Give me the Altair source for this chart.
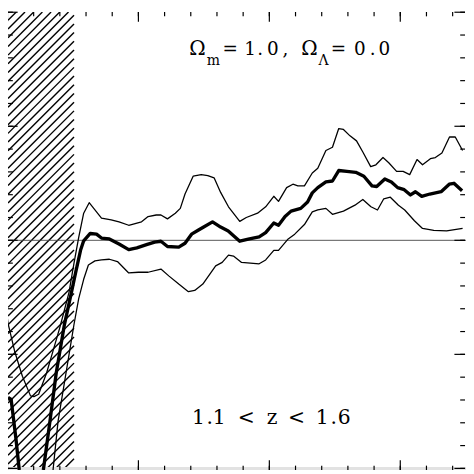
import altair as alt
import pandas as pd
import numpy as np

# ---------------- data (axis units: 1 = one minor tick) ----------------
X_MIN, X_MAX = 0.02, 17.51
Y_MIN, Y_MAX = -10.07, 10.01
HATCH_X = 2.54

mean_x = [0.02, 0.14, 0.32, 0.45, 0.68, 0.94, 1.16, 1.37, 1.62, 1.86, 2.17, 2.42, 2.60, 2.79,
          2.91, 3.16, 3.40, 3.59, 3.89, 4.26, 4.63, 4.94, 5.31, 5.62, 5.86, 6.11, 6.54, 6.78,
          7.03, 7.28, 7.46, 7.83, 8.14, 8.43, 8.87, 9.24, 9.61, 9.86, 10.17, 10.35, 10.60,
          10.83, 11.20, 11.46, 11.64, 11.85, 12.16, 12.41, 12.65, 12.96, 13.30, 13.61, 13.92,
          14.10, 14.41, 14.66, 14.90, 15.15, 15.39, 15.58, 15.82, 16.13, 16.56, 16.87, 17.05, 17.36]
mean_y = [-6.89, -6.98, -8.67, -10.07, -11.39, -11.81, -11.17, -10.07, -7.95, -5.83, -3.72, -2.40,
          -1.43, -0.44, -0.02, 0.30, 0.27, 0.10, 0.06, -0.16, -0.41, -0.33, -0.19, -0.08, -0.04,
          -0.27, -0.30, -0.13, 0.27, 0.44, 0.56, 0.81, 0.58, 0.41, -0.04, 0.06, 0.15, 0.34, 0.76,
          0.66, 1.04, 1.28, 1.40, 1.68, 2.08, 2.31, 2.56, 2.60, 3.06, 3.02, 2.98, 2.81, 2.39,
          2.36, 2.69, 2.56, 2.31, 2.22, 1.99, 2.13, 1.93, 2.03, 2.13, 2.46, 2.50, 2.17]

upper_x = [-0.09, 0.02, 0.27, 0.57, 0.88, 1.01, 1.19, 1.49, 1.74, 1.99, 2.16, 2.35, 2.54, 2.72,
           2.91, 3.12, 3.40, 3.59, 3.96, 4.26, 4.63, 5.12, 5.37, 5.68, 5.86, 6.11, 6.41, 6.60,
           6.78, 7.09, 7.40, 7.65, 7.89, 8.14, 8.44, 8.87, 9.12, 9.55, 9.86, 10.17, 10.35, 10.66,
           10.90, 11.09, 11.34, 11.64, 11.85, 12.16, 12.41, 12.65, 12.83, 13.08, 13.33, 13.57,
           13.87, 14.07, 14.34, 14.56, 14.86, 15.11, 15.36, 15.64, 15.85, 16.15, 16.34, 16.59,
           16.88, 17.10, 17.38]
upper_y = [-2.70, -3.63, -4.85, -5.96, -6.82, -6.85, -6.75, -5.83, -4.85, -3.86, -3.12, -2.28,
           -1.00, 0.13, 1.19, 1.65, 1.25, 0.97, 0.90, 0.81, 0.66, 0.81, 1.04, 1.11, 1.11, 0.94,
           1.19, 1.40, 2.03, 2.81, 2.88, 2.84, 2.74, 2.10, 1.47, 0.83, 1.00, 1.19, 1.47, 1.93,
           1.71, 2.31, 2.46, 2.39, 2.39, 2.95, 3.16, 3.94, 4.08, 4.90, 4.86, 4.58, 4.36, 3.87,
           3.23, 3.31, 3.63, 3.40, 3.02, 3.02, 2.88, 3.54, 3.31, 3.58, 3.63, 3.83, 4.53, 4.53, 3.94]

lower_x = [1.57, 1.74, 1.93, 2.54, 2.72, 2.91, 3.09, 3.34, 3.59, 3.89, 4.20, 4.63, 5.00, 5.37,
           5.86, 6.17, 6.54, 6.91, 7.15, 7.46, 7.95, 8.20, 8.44, 8.63, 8.94, 9.61, 9.86, 10.17,
           10.35, 10.72, 10.97, 11.34, 11.64, 11.85, 12.16, 12.41, 12.83, 13.27, 13.57, 13.88,
           14.13, 14.37, 14.62, 14.93, 15.17, 15.54, 15.85, 16.28, 16.77, 17.38]
lower_y = [-11.60, -10.07, -7.95, -3.69, -2.56, -1.71, -1.08, -0.90, -0.86, -0.83, -0.93, -1.43,
           -1.40, -1.40, -1.26, -1.57, -1.92, -2.25, -2.20, -1.92, -1.12, -0.97, -0.65, -0.69,
           -0.97, -1.03, -0.86, -0.44, -0.44, 0.06, 0.27, 0.69, 1.25, 1.33, 1.40, 1.14, 1.28,
           1.54, 1.79, 1.47, 1.33, 1.82, 1.89, 1.54, 1.33, 0.86, 0.52, 0.44, 0.41, 0.52]

x_minor = list(range(1, 18))
x_major = [0, 5, 10, 15]
y_minor = [v for v in range(-10, 11)]
y_major = [-10, -5, 0, 5, 10]

# text pieces (characters) of the two labels
top_chars = ["Ω", "m", "=", "1", ".", "0", ",", "Ω", "Λ", "=", "0", ".", "0"]
bot_chars = ["1", ".", "1", "<", "z", "<", "1", ".", "6"]

# ---------------- layout / style ----------------
W = H = 466
S = W / 474.0
FONT = "DejaVu Serif"
top_x = [196, 212.5, 230, 250.5, 261, 274, 287, 312, 326.5, 342, 364, 377.5, 389.5]
top_size = [20.5, 14.5, 19, 19, 19, 19, 19, 20.5, 14.5, 19, 19, 19, 19]
top_sub = [False, True, False, False, False, False, False, False, True, False, False, False, False]
bot_x = [197, 208.7, 218.7, 246.7, 273.3, 298.7, 325.3, 337, 348]

xs = alt.Scale(domain=[X_MIN, X_MAX], nice=False, zero=False)
ys = alt.Scale(domain=[Y_MIN, Y_MAX], nice=False, zero=False)


def curve(xv, yv, width):
    df = pd.DataFrame({"x": xv, "y": yv, "o": range(len(xv))})
    return alt.Chart(df).mark_line(color="black", strokeWidth=width, clip=True,
                                   strokeJoin="round").encode(
        x=alt.X("x:Q", scale=xs, axis=None),
        y=alt.Y("y:Q", scale=ys, axis=None),
        order="o:Q")


# hatch lines (45 degrees on screen) filling the excluded region
m = 27.1 / 23.6
step = 9 / 23.6
b_ref = 9.87 - m * (HATCH_X - X_MIN)
rows = []
for k in range(-80, 80):
    b = b_ref + k * step
    u_s = max(X_MIN, X_MIN + (Y_MIN - b) / m)
    u_e = min(HATCH_X, X_MIN + (Y_MAX - b) / m)
    if u_e <= u_s:
        continue
    rows.append(dict(x=u_s, y=b + m * (u_s - X_MIN), x2=u_e, y2=b + m * (u_e - X_MIN)))
hatch = alt.Chart(pd.DataFrame(rows)).mark_rule(color="black", strokeWidth=1.4, clip=True).encode(
    x=alt.X("x:Q", scale=xs, axis=None), y=alt.Y("y:Q", scale=ys, axis=None),
    x2="x2:Q", y2="y2:Q")

zero = alt.Chart(pd.DataFrame({"v": [0.0]})).mark_rule(color="#444", strokeWidth=0.9).encode(
    y=alt.Y("v:Q", scale=ys, axis=None))

# faint frame edge at the bottom
edge = alt.Chart(pd.DataFrame({"v": [0.0]})).mark_rule(color="#e2e2e2", strokeWidth=3 * S).encode(
    x=alt.value(0), x2=alt.value(W), y=alt.value(H - 1.5 * S))


def xticks(vals, top, ln):
    d = pd.DataFrame({"u": vals})
    y0 = 0 if top else H
    y1 = ln * S if top else H - ln * S
    return alt.Chart(d).mark_rule(color="black", strokeWidth=1.2).encode(
        x=alt.X("u:Q", scale=xs, axis=None), y=alt.value(y0), y2=alt.value(y1))


def yticks(vals, left, ln):
    d = pd.DataFrame({"v": vals})
    x0 = 0 if left else W - 1 * S
    x1 = ln * S if left else W - (1 + ln) * S
    return alt.Chart(d).mark_rule(color="black", strokeWidth=1.2).encode(
        y=alt.Y("v:Q", scale=ys, axis=None), x=alt.value(x0), x2=alt.value(x1))


ticks = [xticks(x_minor, True, 4.5), xticks(x_major, True, 10),
         xticks(x_minor, False, 4.5), xticks(x_major, False, 10),
         yticks(y_minor, True, 5), yticks(y_major, True, 10),
         yticks(y_minor, False, 5), yticks(y_major, False, 11)]

texts = []
for ch, px, fs, sub in zip(top_chars, top_x, top_size, top_sub):
    texts.append(alt.Chart(pd.DataFrame({"t": [ch]})).mark_text(
        font=FONT, align="center", baseline="alphabetic",
        fontSize=fs * S, color="black").encode(
        text="t:N", x=alt.value(px * S), y=alt.value((55 if sub else 45) * S)))
for ch, px in zip(bot_chars, bot_x):
    texts.append(alt.Chart(pd.DataFrame({"t": [ch]})).mark_text(
        font=FONT, align="center", baseline="alphabetic",
        fontSize=21 * S, color="black").encode(
        text="t:N", x=alt.value(px * S), y=alt.value(426.7 * S)))

chart = alt.layer(
    hatch, zero, edge,
    curve(upper_x, upper_y, 1.3), curve(lower_x, lower_y, 1.3), curve(mean_x, mean_y, 3.4),
    *ticks, *texts
).properties(width=W, height=H, padding=0, autosize="none").configure_view(stroke=None)

chart.save("out.html", embed_options={"renderer": "svg", "actions": False})
